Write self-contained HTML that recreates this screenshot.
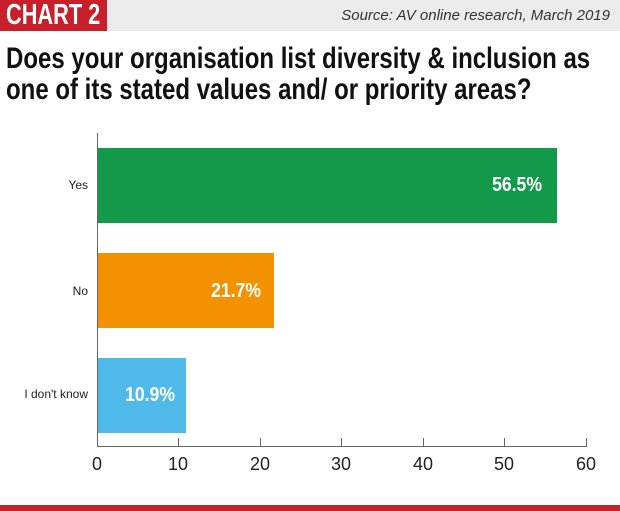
<!DOCTYPE html>
<html><head><meta charset="utf-8"><style>
body{margin:0;width:620px;height:511px;background:#fff;position:relative;overflow:hidden;font-family:"Liberation Sans",sans-serif}
.a{position:absolute;white-space:nowrap}
.cond{font-weight:bold}
.lab{font-size:12px;color:#222;text-align:right;width:80px;left:8px}
.val{color:#fff;font-size:20px;transform:scaleX(0.88);transform-origin:right center}
.tick{width:1px;height:8px;background:#666;top:438px}
.tl{font-size:18px;color:#222;width:40px;text-align:center;top:454px}
</style></head><body>
<div class="a" style="left:0;top:0;width:620px;height:31px;background:#ebebeb"></div>
<div class="a" style="left:0;top:0;width:107px;height:31px;background:#c8202a"></div>
<div class="a cond" style="left:6px;top:0;font-size:29px;line-height:31px;color:#fff;transform:scaleX(0.75);transform-origin:left center">CHART 2</div>
<div class="a" style="right:10px;top:7px;font-size:15px;font-style:italic;color:#333">Source: AV online research, March 2019</div>
<div class="a cond" style="left:6px;top:43px;font-size:30px;line-height:31px;color:#111;transform:scaleX(0.8);transform-origin:left top">Does your organisation list diversity &amp; inclusion as<br>one of its stated values and/ or priority areas?</div>

<div class="a" style="left:97px;top:133px;width:1px;height:314px;background:#666"></div>
<div class="a" style="left:97px;top:446px;width:490px;height:1px;background:#666"></div>

<div class="a" style="left:98px;top:148px;width:459px;height:75px;background:#12994a"></div>
<div class="a cond val" style="left:98px;top:174px;width:444px;text-align:right">56.5%</div>
<div class="a lab" style="top:178px">Yes</div>

<div class="a" style="left:98px;top:253px;width:176px;height:75px;background:#f29200"></div>
<div class="a cond val" style="left:98px;top:280px;width:163px;text-align:right">21.7%</div>
<div class="a lab" style="top:284px">No</div>

<div class="a" style="left:98px;top:358px;width:88px;height:75px;background:#4fb9ea"></div>
<div class="a cond val" style="left:98px;top:384px;width:77px;text-align:right">10.9%</div>
<div class="a lab" style="top:387px">I don't know</div>

<div class="a tick" style="left:178px"></div><div class="a tick" style="left:260px"></div><div class="a tick" style="left:341px"></div><div class="a tick" style="left:423px"></div><div class="a tick" style="left:504px"></div><div class="a tick" style="left:586px"></div>
<div class="a tl" style="left:77px">0</div><div class="a tl" style="left:158px">10</div><div class="a tl" style="left:240px">20</div><div class="a tl" style="left:321px">30</div><div class="a tl" style="left:403px">40</div><div class="a tl" style="left:484px">50</div><div class="a tl" style="left:566px">60</div>

<div class="a" style="left:0;top:505px;width:620px;height:6px;background:#c8202a"></div>
</body></html>
